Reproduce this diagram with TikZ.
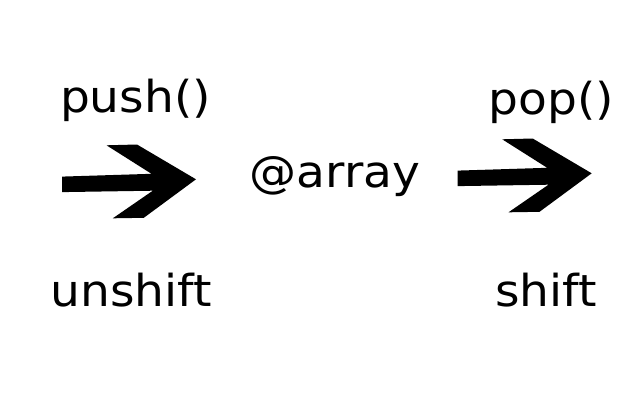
\documentclass[tikz,border=0pt]{standalone}
\usepackage{fontspec}
\setmainfont{DejaVu Sans}
\usepackage{graphicx}
\newcommand{\stretched}[1]{\scalebox{1.07}[1]{#1}}
\tikzset{
  opname/.style={inner sep=0pt, anchor=base, font=\fontsize{44}{52}\selectfont},
  pics/bigarrow/.style={code={
    \fill (-134,-2.7) -- (-44.5,-5.5) -- (-89.5,-34) -- (-59,-34.8) -- (0,0)
      -- (-52.2,38.5) -- (-83.2,39) -- (-43.2,11.4) -- (-134,12.8) -- cycle;
  }}
}
\begin{document}
\begin{tikzpicture}[x=1pt, y=-1pt]
    \useasboundingbox (0,0) rectangle (640,400);

    % Operações acima e abaixo das setas
    \node[opname] (push) at (135.5,112) {\stretched{push()}}; % esquerda, cima
    \node[opname] (unshift) at (131,306.7) {\stretched{unshift}}; % esquerda, baixo
    \node[opname] (pop) at (551.3,114) {\stretched{pop()}}; % direita, cima
    \node[opname] (shift) at (546,306.7) {\stretched{shift}}; % direita, baixo

    % O array no meio
    \node[opname] (arr) at (335,187) {\stretched{@array}};

    % Setas
    \pic (leftarrow) at (196,179.3) {bigarrow};
    \pic (rightarrow) at (591.7,173.3) {bigarrow};
\end{tikzpicture}
\end{document}
